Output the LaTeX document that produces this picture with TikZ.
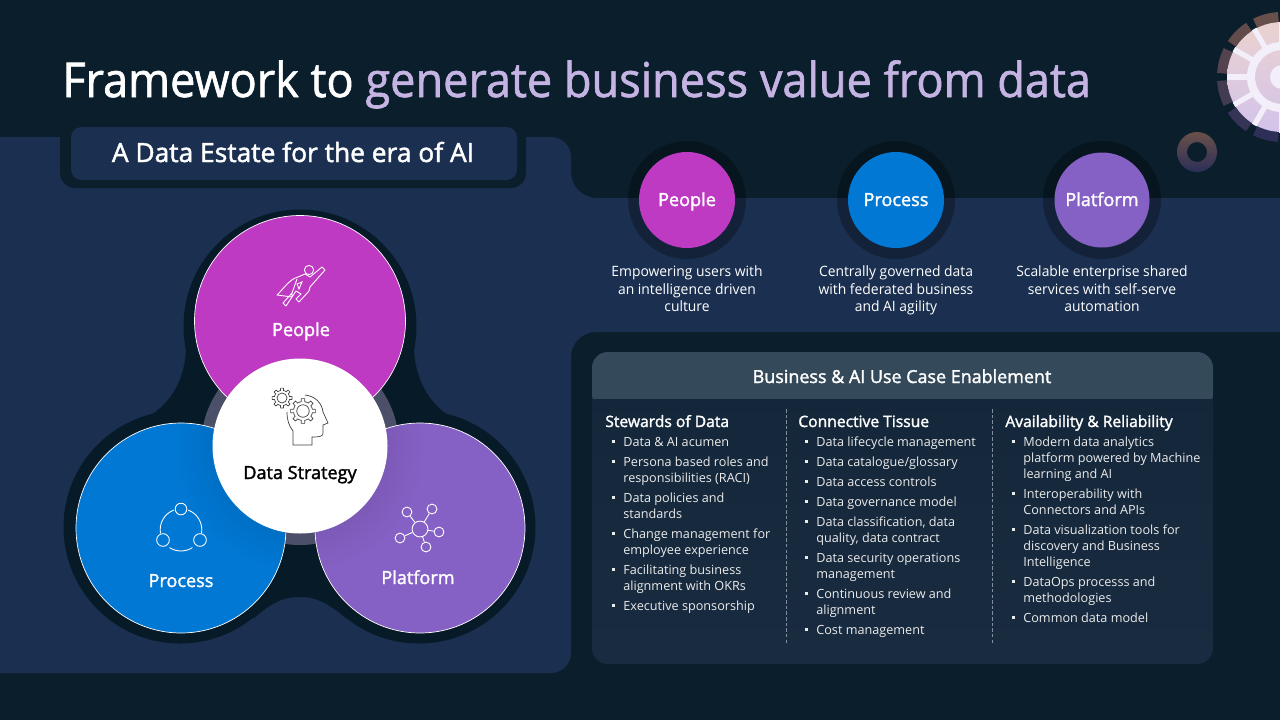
\documentclass[tikz,border=0pt]{standalone}
\usepackage{fontspec}
\setmainfont{Open Sans}
\newfontfamily\semifont{Open Sans}[FakeBold=1.8]
\newfontfamily\titlefont{Open Sans}[FakeBold=1.3,FakeStretch=0.94]
\newfontfamily\descfont{Open Sans}[FakeStretch=0.975]
\usetikzlibrary{fadings}
\definecolor{bgdark}{HTML}{0A1E2C}
\definecolor{halodark}{HTML}{061A27}
\definecolor{panelblue}{HTML}{1B3050}
\definecolor{peoplepink}{HTML}{BF3AC2}
\definecolor{processblue}{HTML}{0078D4}
\definecolor{platformviolet}{HTML}{8661C5}
\definecolor{ringgrey}{HTML}{4B5068}
\definecolor{titlelilac}{HTML}{C5B4E3}
\definecolor{wheeltop}{HTML}{6A5049}
\definecolor{wheelbot}{HTML}{2C2E58}
\definecolor{wheelpink}{HTML}{EBD2D0}
\definecolor{wheellilac}{HTML}{D2C3EA}
\definecolor{wheelpale}{HTML}{F2EEFA}
\definecolor{headslate}{HTML}{34495A}
\definecolor{boxtop}{HTML}{14273A}
\definecolor{boxbot}{HTML}{192B40}
\tikzfading[name=haze,inner color=transparent!0,outer color=transparent!100]
\begin{document}
\begin{tikzpicture}[x=0.02cm,y=0.02cm]
\tikzstyle{every node}+=[inner sep=0pt]
\tikzstyle{bigball}=[draw=white,line width=0.4pt]
\tikzstyle{smalltitle}=[anchor=base,white,font=\semifont\fontsize{10.3}{12}\selectfont]
\tikzstyle{desc}=[anchor=base,white,font=\descfont\fontsize{8.1}{10}\selectfont]
\tikzstyle{coltitle}=[anchor=base west,white,font=\semifont\fontsize{8.9}{11}\selectfont]
\tikzstyle{item}=[anchor=base west,white!92!black,font=\fontsize{7.2}{9}\selectfont]
\tikzstyle{iconwhite}=[draw=white,line width=0.5pt]
\tikzstyle{icongrey}=[draw=black!75,line width=0.4pt]
\tikzstyle{dot}=[circle,iconwhite]
\tikzset{gearicon/.pic={
\draw [icongrey] (-22:0.76) \foreach \a in {0,45,...,315} {-- ({\a-22}:0.76) -- ({\a-11}:0.76) -- ({\a-8}:1) -- ({\a+8}:1) -- ({\a+11}:0.76) -- ({\a+22}:0.76)} -- cycle;
\draw [icongrey] (0,0) circle (0.5);
}}
\useasboundingbox (0,0) rectangle (1280,-720);
\fill [bgdark] (0,0) rectangle (1280,-720);
% panel
\fill [panelblue] (0,-137) -- (551,-137) arc (90:0:20) -- (571,-172) arc (180:270:26) -- (1280,-198) -- (1280,-332) -- (596,-332) arc (90:180:25) -- (571,-653) arc (0:-90:20) -- (0,-673) -- cycle;
% tab
\fill [bgdark] (60,-130) -- (526,-130) -- (526,-173) arc (0:-90:15) -- (75,-188) arc (270:180:15) -- cycle;
\fill [panelblue,rounded corners=6pt] (71,-127) rectangle (517,-180);
\draw (293,-162) node [anchor=base,white,font=\semifont\fontsize{15}{18}\selectfont] (tab) {A Data Estate for the era of AI};
% title
\draw (62,-97) node [anchor=base west,font=\titlefont\fontsize{27.3}{32}\selectfont] (title) {\textcolor{white}{Framework to} \textcolor{titlelilac}{generate business value from data}};
% wheel
\shade [top color=wheeltop,bottom color=wheelbot,even odd rule] (1197,-152) circle (20) (1197,-152) circle (10);
\foreach \a in {0,30,...,330} {
\pgfmathsetmacro{\mixval}{50+50*sin(\a+15)}
\draw [wheeltop!\mixval!wheelbot,line width=5.7pt] (1282,-77) ++({\a+3.5}:60) arc ({\a+3.5}:{\a+26.5}:60);
}
\shade [top color=wheelpink,bottom color=wheellilac] (1282,-77) circle (55);
\draw [wheelpale,line width=4.6pt] (1282,-77) circle (31);
\foreach \a in {0,30,...,330} {
\draw [wheelpale,line width=3pt] (1282,-77) ++(\a:33) -- ++(\a:22.5);
}
\fill [wheelpale] (1282,-77) circle (12);
% dark blob behind big circles
\fill [halodark] (186,-345) .. controls (186,-385) and (165,-410) .. (140,-421) -- (254,-618) .. controls (275,-600) and (285,-597) .. (300,-597) .. controls (318,-597) and (330,-605) .. (346,-618) -- (458,-421) .. controls (435,-410) and (414,-385) .. (414,-345) -- cycle;
\fill [halodark] (300,-326) circle (116.5);
\fill [halodark] (180,-527) circle (116.5);
\fill [halodark] (419,-527) circle (116.5);
\fill [ringgrey] (300,-446) circle (99);
% big circles
\draw [bigball,fill=peoplepink] (300,-321) circle (105.5);
\draw [bigball,fill=processblue] (181,-528) circle (105);
\draw [bigball,fill=platformviolet] (420,-528) circle (105);
\begin{scope}
\clip (181,-528) circle (104.7);
\fill [black,path fading=haze,fit fading=true,opacity=0.22] (300,-446) circle (125);
\end{scope}
\begin{scope}
\clip (420,-528) circle (104.7);
\fill [black,path fading=haze,fit fading=true,opacity=0.22] (300,-446) circle (125);
\end{scope}
\fill [white] (300,-446) circle (87.5);
\draw (301,-336) node [smalltitle] (peoplebig) {People};
\draw (181,-587) node [smalltitle] (processbig) {Process};
\draw (418,-584) node [smalltitle] (platformbig) {Platform};
\draw (300,-479) node [smalltitle,black] (strategy) {Data Strategy};
% hero icon
\draw [iconwhite] (309,-270) circle (4.6);
\draw [iconwhite,line join=round] (277,-295) .. controls (285,-287) and (290,-279) .. (298,-277) -- (305,-274) -- (310,-277) -- (322,-267) -- (325,-270) -- (310,-287) -- (309,-291) -- (299,-302) -- (296,-299) -- (301,-294) -- (296,-291) -- (286,-306) -- (283,-303) -- (292,-293) -- (292,-297) -- cycle;
\draw [iconwhite] (292,-293) -- (297,-279) (297,-284) -- (302,-282) -- (299,-289) -- cycle;
% head icon
\draw [icongrey] (305,-395) .. controls (315,-396) and (322,-403) .. (323,-412) -- (328,-423) -- (323,-425) -- (323,-433) .. controls (323,-436) and (321,-437) .. (312,-437) -- (312,-445) -- (293,-445) -- (293,-431) .. controls (289,-426) and (287,-420) .. (287,-412);
\pic [scale=10] at (282,-398) {gearicon};
\pic [scale=12.5] at (303,-411) {gearicon};
% process icon
\draw (181,-509) node [dot,minimum size=6.6pt] (ptop) {};
\draw (163,-540) node [dot,minimum size=7.2pt] (pleft) {};
\draw (200,-540) node [dot,minimum size=7.2pt] (pright) {};
\draw [iconwhite] (174,-510) arc (110:190:21);
\draw [iconwhite] (188,-510) arc (70:-10:21);
\draw [iconwhite] (169.5,-547.6) arc (237:303:21);
% network icon
\draw (420,-529) node [dot,minimum size=9pt] (hub) {};
\draw (407,-512) node [dot,minimum size=5.6pt] (sata) {};
\draw (432,-509) node [dot,minimum size=5.6pt] (satb) {};
\draw (439,-532) node [dot,minimum size=5.6pt] (satc) {};
\draw (426,-547) node [dot,minimum size=5.6pt] (satd) {};
\draw (400,-538) node [dot,minimum size=5.6pt] (sate) {};
\foreach \s in {sata,satb,satc,satd,sate} {
\draw [iconwhite] (hub) -- (\s);
}
% top three circles
\foreach \x/\n/\c/\t/\p in {687/toppeople/peoplepink/People/48,896/topprocess/processblue/Process/48,1102/topplatform/platformviolet/Platform/47.5} {
\fill [black,opacity=0.28] (\x,-200) circle (59);
\fill [\c] (\x,-200) circle (\p);
\draw (\x,-206) node [smalltitle] (\n) {\t};
}
\draw (687,-276) node [desc] (da) {Empowering users with};
\draw (687,-294) node [desc] (db) {an intelligence driven};
\draw (687,-311) node [desc] (dc) {culture};
\draw (896,-276) node [desc] (dd) {Centrally governed data};
\draw (896,-294) node [desc] (de) {with federated business};
\draw (896,-311) node [desc] (df) {and AI agility};
\draw (1102,-276) node [desc] (dg) {Scalable enterprise shared};
\draw (1102,-294) node [desc] (dh) {services with self-serve};
\draw (1102,-311) node [desc] (di) {automation};
% use case box
\shade [bottom color=boxbot,top color=boxtop,rounded corners=9pt] (592,-385) rectangle (1213,-664);
\fill [rounded corners=9pt,fill=headslate] (592,-352) rectangle (1213,-410);
\fill [boxtop] (592,-399) rectangle (1213,-412);
\draw (902,-383) node [anchor=base,white,font=\semifont\fontsize{10.2}{12}\selectfont] (usecase) {Business \& AI Use Case Enablement};
\draw [white!45!panelblue,line width=0.4pt,dash pattern=on 2pt off 1.2pt] (786,-409) -- (786,-643);
\draw [white!45!panelblue,line width=0.4pt,dash pattern=on 2pt off 1.2pt] (992,-409) -- (992,-643);
\draw (605,-427) node [coltitle] (stewards) {Stewards of Data};
\draw (798,-427) node [coltitle] (tissue) {Connective Tissue};
\draw (1005,-427) node [coltitle] (avail) {Availability \& Reliability};
\foreach \y/\t in {446/{Data \& AI acumen},466/{Persona based roles and},482/{responsibilities (RACI)},502/{Data policies and},518/{standards},538/{Change management for},554/{employee experience},574/{Facilitating business},590/{alignment with OKRs},610/{Executive sponsorship}} {
\draw (623,-\y) node [item] (st\y) {\t};
}
\foreach \y/\t in {446/{Data lifecycle management},466/{Data catalogue/glossary},486/{Data access controls},506/{Data governance model},526/{Data classification, data},542/{quality, data contract},562/{Data security operations},578/{management},598/{Continuous review and},614/{alignment},634/{Cost management}} {
\draw (816,-\y) node [item] (ct\y) {\t};
}
\foreach \y/\t in {446/{Modern data analytics},462/{platform powered by Machine},478/{learning and AI},498/{Interoperability with},514/{Connectors and APIs},534/{Data visualization tools for},550/{discovery and Business},566/{Intelligence},586/{DataOps processs and},602/{methodologies},622/{Common data model}} {
\draw (1023,-\y) node [item] (av\y) {\t};
}
\foreach \x/\y in {613/441,613/461,613/497,613/533,613/569,613/605,806/441,806/461,806/481,806/501,806/521,806/557,806/593,806/629,1013/441,1013/493,1013/529,1013/581,1013/617} {
\fill [white!92!black] (\x-1.5,-\y-1.5) rectangle (\x+1.5,-\y+1.5);
}
\end{tikzpicture}
\end{document}
